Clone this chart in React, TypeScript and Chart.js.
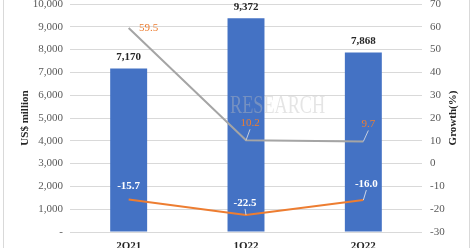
import React, { useEffect, useRef } from "react";
import { Chart, registerables } from "chart.js";

Chart.register(...registerables);

const categories = ["2Q21", "1Q22", "2Q22"];
const revenue = [7170, 9372, 7868];
const yoyGrowth = [59.5, 10.2, 9.7];
const qoqGrowth = [-15.7, -22.5, -16.0];
const leftTitle = "US$ million";
const rightTitle = "Growth(%)";
const watermark = "RESEARCH";

const SERIF = "'Liberation Serif', 'Times New Roman', serif";

// label offsets (style) for each line series
const yoyOffsets = [
  { dx: 20, dy: 0, leader: false },
  { dx: 4, dy: -17, leader: true },
  { dx: 5, dy: -17, leader: true },
];
const qoqOffsets = [
  { dx: 0, dy: -13, leader: false },
  { dx: -1, dy: -12, leader: true },
  { dx: 3, dy: -16, leader: true },
];

const fmt = (v: number) => v.toLocaleString("en-US");

const zeroPad = (s: any) => {
  s.paddingTop = 0;
  s.paddingBottom = 0;
  s.paddingLeft = 0;
  s.paddingRight = 0;
};

const labelPlugin = {
  id: "customLabels",
  beforeDraw(chart: any) {
    const ctx = chart.ctx;
    ctx.save();
    ctx.fillStyle = "#ffffff";
    ctx.fillRect(0, 0, chart.width, chart.height);
    ctx.strokeStyle = "#d9d9d9";
    ctx.lineWidth = 1;
    ctx.strokeRect(3.5, -2, 466, chart.height + 4);
    ctx.restore();
  },
  afterDatasetsDraw(chart: any) {
    const ctx = chart.ctx;
    const area = chart.chartArea;
    ctx.save();
    // watermark
    ctx.save();
    ctx.translate(230, 113);
    ctx.scale(0.7, 1);
    ctx.font = `26px ${SERIF}`;
    ctx.fillStyle = "rgba(190,190,190,0.4)";
    ctx.textAlign = "left";
    ctx.textBaseline = "alphabetic";
    ctx.fillText(watermark, 0, 0);
    ctx.restore();

    // bar value labels
    const barMeta = chart.getDatasetMeta(0);
    ctx.font = `bold 11px ${SERIF}`;
    ctx.fillStyle = "#262626";
    ctx.textAlign = "center";
    ctx.textBaseline = "middle";
    barMeta.data.forEach((el: any, i: number) => {
      ctx.fillText(fmt(revenue[i]), el.x, el.y - 11);
    });

    // yoy labels (orange text)
    const yoyMeta = chart.getDatasetMeta(1);
    ctx.font = `11px ${SERIF}`;
    yoyMeta.data.forEach((el: any, i: number) => {
      const o = yoyOffsets[i];
      const lx = el.x + o.dx;
      const ly = el.y + o.dy;
      if (o.leader) {
        ctx.strokeStyle = "rgba(210,215,225,0.9)";
        ctx.lineWidth = 1;
        ctx.beginPath();
        ctx.moveTo(lx, ly + 6);
        ctx.lineTo(el.x, el.y);
        ctx.stroke();
      }
      ctx.fillStyle = "#ED7D31";
      ctx.fillText(yoyGrowth[i].toFixed(1), lx, ly);
    });

    // qoq labels (white bold)
    const qoqMeta = chart.getDatasetMeta(2);
    ctx.font = `bold 11px ${SERIF}`;
    qoqMeta.data.forEach((el: any, i: number) => {
      const o = qoqOffsets[i];
      const lx = el.x + o.dx;
      const ly = el.y + o.dy;
      if (o.leader) {
        ctx.strokeStyle = "rgba(220,225,235,0.9)";
        ctx.lineWidth = 1;
        ctx.beginPath();
        ctx.moveTo(lx, ly + 6);
        ctx.lineTo(el.x, el.y);
        ctx.stroke();
      }
      ctx.fillStyle = "#ffffff";
      ctx.fillText(qoqGrowth[i].toFixed(1), lx, ly);
    });

    // axis titles
    const cy = (area.top + area.bottom) / 2;
    ctx.fillStyle = "#262626";
    ctx.font = `bold 11px ${SERIF}`;
    ctx.save();
    ctx.translate(25, cy);
    ctx.rotate(-Math.PI / 2);
    ctx.fillText(leftTitle, 0, 0);
    ctx.restore();
    ctx.save();
    ctx.translate(453, cy);
    ctx.rotate(-Math.PI / 2);
    ctx.fillText(rightTitle, 0, 0);
    ctx.restore();

    ctx.restore();
  },
};

export default function App() {
  const ref = useRef<HTMLCanvasElement | null>(null);
  useEffect(() => {
    document.body.style.margin = "0";
    const canvas = ref.current;
    if (!canvas) return;
    const chart = new Chart(canvas, {
      type: "bar",
      data: {
        labels: categories,
        datasets: [
          {
            type: "bar",
            label: "Revenue",
            data: revenue,
            backgroundColor: "#4472C4",
            yAxisID: "y",
            barPercentage: 0.315,
            categoryPercentage: 1,
            order: 2,
          },
          {
            type: "line",
            label: "YoY",
            data: yoyGrowth,
            borderColor: "#A5A5A5",
            backgroundColor: "#A5A5A5",
            borderWidth: 2,
            pointRadius: 0,
            tension: 0,
            yAxisID: "y1",
            order: 1,
          },
          {
            type: "line",
            label: "QoQ",
            data: qoqGrowth,
            borderColor: "#ED7D31",
            backgroundColor: "#ED7D31",
            borderWidth: 2,
            pointRadius: 0,
            tension: 0,
            yAxisID: "y1",
            order: 0,
          },
        ],
      },
      options: {
        animation: false,
        responsive: false,
        maintainAspectRatio: false,
        devicePixelRatio: 1,
        layout: { padding: { top: 4, left: 0, right: 0, bottom: 0 } },
        plugins: {
          legend: { display: false },
          tooltip: { enabled: false },
          title: { display: false },
        },
        scales: {
          x: {
            grid: { display: false },
            border: { display: false },
            ticks: {
              color: "#262626",
              font: { family: SERIF, size: 11, weight: "bold" },
              padding: 0,
              maxRotation: 0,
            },
            afterFit: (s: any) => {
              s.height = 16;
              zeroPad(s);
            },
          },
          y: {
            position: "left",
            min: 0,
            max: 10000,
            ticks: {
              stepSize: 1000,
              color: "#595959",
              font: { family: SERIF, size: 11 },
              padding: 7,
              callback: (v: any) => (Number(v) === 0 ? "-" : fmt(Number(v))),
            },
            grid: { color: "#d9d9d9", drawTicks: false, lineWidth: 1 },
            border: { display: false },
            afterFit: (s: any) => {
              s.width = 70;
              zeroPad(s);
            },
          },
          y1: {
            position: "right",
            min: -30,
            max: 70,
            ticks: {
              stepSize: 10,
              color: "#595959",
              font: { family: SERIF, size: 11 },
              padding: 8,
            },
            grid: { display: false, drawTicks: false },
            border: { display: false },
            afterFit: (s: any) => {
              s.width = 52;
              zeroPad(s);
            },
          },
        },
      },
      plugins: [labelPlugin],
    } as any);
    return () => chart.destroy();
  }, []);
  return (
    <div style={{ position: "absolute", left: 0, top: 0, width: 474, height: 248 }}>
      <canvas ref={ref} width={474} height={248} style={{ width: 474, height: 248, display: "block" }} />
    </div>
  );
}
